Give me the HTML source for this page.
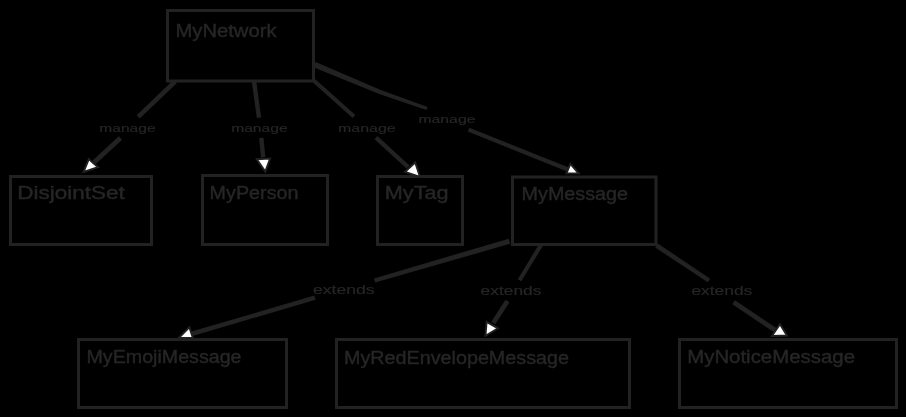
<!DOCTYPE html><html><head><meta charset="utf-8"><style>html,body{margin:0;padding:0;background:#000;width:906px;height:417px;overflow:hidden}svg{display:block;will-change:transform}text{font-family:"Liberation Sans",sans-serif}</style></head><body>
<svg width="906" height="417" viewBox="0 0 906 417">
<rect width="906" height="417" fill="#000"/>
<rect x="167.5" y="10.5" width="146.0" height="70.5" fill="none" stroke="#222222" stroke-width="3"/>
<text x="175.5" y="36.7" font-size="18" fill="#262626" stroke="#262626" stroke-width="0.4" textLength="101.0" lengthAdjust="spacingAndGlyphs">MyNetwork</text>
<rect x="10.5" y="176.5" width="141.0" height="68.0" fill="none" stroke="#222222" stroke-width="3"/>
<text x="17.3" y="198.8" font-size="18" fill="#262626" stroke="#262626" stroke-width="0.4" textLength="107.4" lengthAdjust="spacingAndGlyphs">DisjointSet</text>
<rect x="202.5" y="175.5" width="125.0" height="69.0" fill="none" stroke="#222222" stroke-width="3"/>
<text x="209.6" y="199.2" font-size="18" fill="#262626" stroke="#262626" stroke-width="0.4" textLength="88.9" lengthAdjust="spacingAndGlyphs">MyPerson</text>
<rect x="377.5" y="176.5" width="85.0" height="68.0" fill="none" stroke="#222222" stroke-width="3"/>
<text x="384.8" y="198.9" font-size="18" fill="#262626" stroke="#262626" stroke-width="0.4" textLength="63.7" lengthAdjust="spacingAndGlyphs">MyTag</text>
<rect x="512.5" y="177" width="143.5" height="67.5" fill="none" stroke="#222222" stroke-width="3"/>
<text x="521.6" y="200" font-size="18" fill="#262626" stroke="#262626" stroke-width="0.4" textLength="106.4" lengthAdjust="spacingAndGlyphs">MyMessage</text>
<rect x="78.5" y="339.5" width="208.0" height="68.0" fill="none" stroke="#222222" stroke-width="3"/>
<text x="86.5" y="363" font-size="18" fill="#262626" stroke="#262626" stroke-width="0.4" textLength="155.0" lengthAdjust="spacingAndGlyphs">MyEmojiMessage</text>
<rect x="336.5" y="339.5" width="293.0" height="68.0" fill="none" stroke="#222222" stroke-width="3"/>
<text x="344" y="364" font-size="18" fill="#262626" stroke="#262626" stroke-width="0.4" textLength="225.0" lengthAdjust="spacingAndGlyphs">MyRedEnvelopeMessage</text>
<rect x="679.5" y="339.5" width="217.0" height="68.0" fill="none" stroke="#222222" stroke-width="3"/>
<text x="687.2" y="363.4" font-size="18" fill="#262626" stroke="#262626" stroke-width="0.4" textLength="167.8" lengthAdjust="spacingAndGlyphs">MyNoticeMessage</text>
<polygon points="173.63,79.85 136.66,115.18 139.74,118.42 176.77,83.15" fill="#222222"/>
<polygon points="118.78,136.26 92.38,160.76 95.62,164.24 122.02,139.74" fill="#222222"/>
<polygon points="88.8,159.1 98.0,167.2 83.6,172.0" fill="#fff" stroke="#222222" stroke-width="1.9" stroke-linejoin="miter"/>
<text x="99.3" y="131.8" font-size="10.8" fill="#262626" stroke="#262626" stroke-width="0.15" textLength="56.3" lengthAdjust="spacingAndGlyphs">manage</text>
<polygon points="251.74,81.61 256.84,118.10 261.16,117.50 256.26,80.99" fill="#222222"/>
<polygon points="259.13,138.11 261.03,157.41 265.37,156.99 263.47,137.69" fill="#222222"/>
<polygon points="256.8,159.2 270.1,158.6 265.3,171.6" fill="#fff" stroke="#222222" stroke-width="1.9" stroke-linejoin="miter"/>
<text x="231.2" y="131.6" font-size="10.8" fill="#262626" stroke="#262626" stroke-width="0.15" textLength="56.4" lengthAdjust="spacingAndGlyphs">manage</text>
<polygon points="312.61,82.36 352.67,117.99 355.33,115.01 315.39,79.24" fill="#222222"/>
<polygon points="374.52,139.21 406.52,168.61 409.48,165.39 377.48,135.99" fill="#222222"/>
<polygon points="405.1,171.8 415.2,162.5 420.0,177.0" fill="#fff" stroke="#222222" stroke-width="1.9" stroke-linejoin="miter"/>
<text x="338.1" y="132.1" font-size="10.8" fill="#262626" stroke="#262626" stroke-width="0.15" textLength="57.6" lengthAdjust="spacingAndGlyphs">manage</text>
<polygon points="313.36,67.32 379.20,94.07 426.43,110.11 427.57,106.89 380.80,89.93 315.64,61.88" fill="#222222"/>
<polygon points="467.82,131.54 566.62,171.24 568.18,167.36 469.38,127.66" fill="#222222"/>
<polygon points="570.4,163.9 578.6,173.4 566.4,173.4" fill="#fff" stroke="#222222" stroke-width="1.9" stroke-linejoin="miter"/>
<text x="418.4" y="122.8" font-size="10.8" fill="#262626" stroke="#262626" stroke-width="0.15" textLength="57.1" lengthAdjust="spacingAndGlyphs">manage</text>
<polygon points="508.76,238.65 373.99,278.40 375.21,282.60 510.24,243.75" fill="#222222"/>
<polygon points="314.38,295.60 191.36,331.61 192.64,335.99 315.62,299.80" fill="#222222"/>
<polygon points="189.3,327.3 192.9,337.9 178.9,337.9" fill="#fff" stroke="#222222" stroke-width="1.9" stroke-linejoin="miter"/>
<text x="313" y="294" font-size="13" fill="#262626" stroke="#262626" stroke-width="0.15" textLength="61.6" lengthAdjust="spacingAndGlyphs">extends</text>
<polygon points="539.72,243.11 517.80,279.16 521.20,281.24 543.28,245.29" fill="#222222"/>
<polygon points="505.50,299.71 491.30,321.71 495.30,324.29 509.50,302.29" fill="#222222"/>
<polygon points="486.6,321.8 498.0,328.3 485.5,335.7" fill="#fff" stroke="#222222" stroke-width="1.9" stroke-linejoin="miter"/>
<text x="480.6" y="295.3" font-size="13" fill="#262626" stroke="#262626" stroke-width="0.15" textLength="60.9" lengthAdjust="spacingAndGlyphs">extends</text>
<polygon points="655.18,247.48 707.79,282.32 710.21,278.68 657.82,243.52" fill="#222222"/>
<polygon points="732.28,304.17 773.68,331.97 776.32,328.03 734.92,300.23" fill="#222222"/>
<polygon points="771.9,336.0 780.0,324.2 786.9,335.5" fill="#fff" stroke="#222222" stroke-width="1.9" stroke-linejoin="miter"/>
<text x="691.4" y="295.2" font-size="13" fill="#262626" stroke="#262626" stroke-width="0.15" textLength="60.9" lengthAdjust="spacingAndGlyphs">extends</text>
</svg></body></html>
